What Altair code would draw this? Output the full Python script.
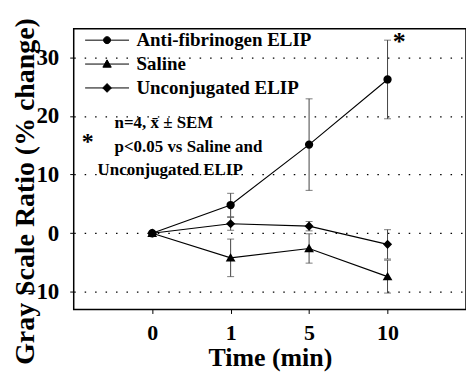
import altair as alt
import pandas as pd

times = ["0", "1", "5", "10"]
series = ["Anti-fibrinogen ELIP", "Saline", "Unconjugated ELIP"]
anti_mean = [0, 4.8, 15.1, 26.2]
anti_sem = [0, 2.0, 7.8, 6.7]
saline_mean = [0, -4.2, -2.6, -7.4]
saline_sem = [0, 3.2, 2.5, 2.8]
unconj_mean = [0, 1.6, 1.2, -1.9]
unconj_sem = [0, 1.1, 0.8, 2.5]
y_ticks = [-10, 0, 10, 20, 30]

rows = []
for name, means, sems in [(series[0], anti_mean, anti_sem),
                          (series[1], saline_mean, saline_sem),
                          (series[2], unconj_mean, unconj_sem)]:
    for t, m, s in zip(times, means, sems):
        rows.append({"series": name, "time": t, "mean": m, "sem": s,
                     "lo": m - s, "hi": m + s})
df = pd.DataFrame(rows)

FONT = "Liberation Serif"

x_enc = alt.X("time:O", sort=times,
              scale=alt.Scale(type="point", padding=1, domain=times),
              axis=alt.Axis(title="Time (min)", labelAngle=0, labelFontSize=22,
                            labelPadding=9, tickSize=4, titleFontSize=26,
                            titlePadding=1, domain=False, grid=False))
y_scale = alt.Scale(domain=[-13.0, 34.85], nice=False, zero=False)
y_enc = alt.Y("mean:Q", scale=y_scale,
              axis=alt.Axis(title="Gray Scale Ratio (% change)", values=y_ticks,
                            labelFontSize=23, labelPadding=11, tickSize=4,
                            grid=True, gridDash=[1.5, 9], gridColor="black",
                            gridWidth=1.3, domain=False, titleFontSize=28,
                            titleX=-34, titleY=163))

base = alt.Chart(df)

lines = base.mark_line(color="black", strokeWidth=1.1).encode(
    x=x_enc, y=y_enc, detail="series:N")

errs = base.transform_filter("datum.sem > 0").mark_errorbar(
    ticks={"size": 7, "thickness": 1, "color": "#444"},
    rule={"color": "#444", "strokeWidth": 1}).encode(
    x=alt.X("time:O", sort=times),
    y=alt.Y("lo:Q", scale=y_scale, title="Gray Scale Ratio (% change)"),
    y2="hi:Q")

points = base.mark_point(filled=True, fill="black", stroke="black", opacity=1,
                         size=40).encode(
    x=alt.X("time:O", sort=times), y=alt.Y("mean:Q"),
    shape=alt.Shape("series:N",
                    scale=alt.Scale(domain=series,
                                    range=["circle", "triangle-up", "diamond"]),
                    legend=None))

legend_paths = [
    "M-6.3,0H6.3M-1,0A1,1 0 1,1 1,0A1,1 0 1,1 -1,0Z",
    "M-6.3,0H6.3M0,-1.2L1.2,0.9L-1.2,0.9Z",
    "M-6.3,0H6.3M-1.25,0L0,-1.25L1.25,0L0,1.25Z",
]
legend_layer = base.transform_filter("false").mark_point(
    filled=True, fill="black", stroke="black", strokeWidth=1, opacity=1,
    size=49).encode(
    x=alt.X("time:O", sort=times), y=alt.Y("mean:Q"),
    shape=alt.Shape("series:N",
                    scale=alt.Scale(domain=series, range=legend_paths),
                    legend=alt.Legend(title=None, orient="none", legendX=24,
                                      legendY=2, labelFontSize=19,
                                      labelFont=FONT, labelFontWeight="bold",
                                      labelColor="black", labelOffset=20,
                                      labelLimit=0,
                                      rowPadding=4, symbolSize=49,
                                      symbolStrokeWidth=1)))

def note(text, x, y, size=17, align="left"):
    return alt.Chart(pd.DataFrame({"t": [text]})).mark_text(
        font=FONT, fontWeight="bold", fontSize=size, align=align,
        baseline="alphabetic", color="black").encode(
        text="t:N", x=alt.value(x), y=alt.value(y))

notes = [
    note("n=4, x\u0304 \u00b1 SEM", 41, 100),
    note("p<0.05 vs Saline and", 41, 124),
    note("Unconjugated ELIP", 24, 147),
    note("*", 14, 121, size=24, align="center"),
    note("*", 327, 21, size=26, align="center"),
]

chart = alt.layer(lines, errs, points, legend_layer, *notes).resolve_scale(
    shape="independent"
).properties(
    width=394, height=282,
    autosize=alt.AutoSizeParams(type="none"),
    padding={"left": 66, "top": 20, "right": 0, "bottom": 65},
).configure(
    font=FONT,
).configure_axis(
    labelFont=FONT, titleFont=FONT, labelFontWeight="bold",
    titleFontWeight="bold", labelColor="black", titleColor="black",
    tickColor="black",
).configure_view(
    stroke="black", strokeWidth=1.5,
)

chart.save("out.html", embed_options={"renderer": "svg", "actions": False})
